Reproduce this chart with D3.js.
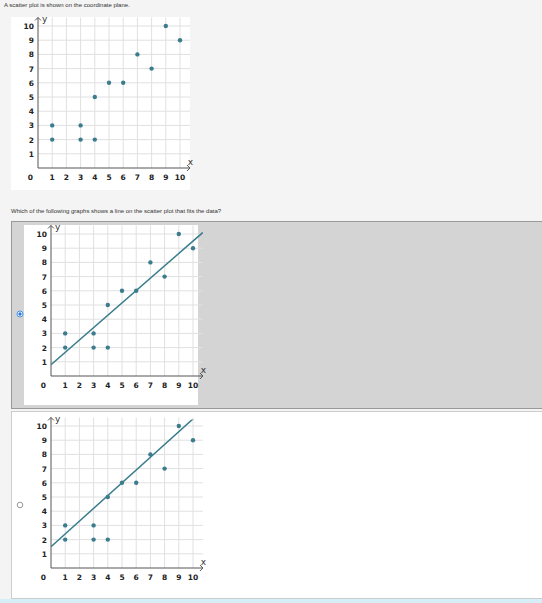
<!DOCTYPE html><html><head><meta charset="utf-8"><script src="https://cdn.jsdelivr.net/npm/d3@7"></script>
<style>body{margin:0;background:#f4f4f4}svg{display:block}</style></head><body>
<script>
const xs=[1,1,3,3,4,4,5,6,7,8,9,10];
const ys=[2,3,2,3,2,5,6,6,8,7,10,9];
const ticks=[1,2,3,4,5,6,7,8,9,10];
const lineA=[[0,0.8],[10.7,10.11]];
const lineB=[[0,1.5],[10.4,10.86]];
const W=542,H=603;
const svg=d3.select("body").append("svg").attr("width",W).attr("height",H);
const col="#3b7d8c";
svg.append("text").attr("x",4).attr("y",7).attr("font-family","Liberation Sans").attr("font-size",6).attr("fill","#333").text("A scatter plot is shown on the coordinate plane.");
svg.append("text").attr("x",11).attr("y",213).attr("font-family","Liberation Sans").attr("font-size",6).attr("fill","#333").text("Which of the following graphs shows a line on the scatter plot that fits the data?");
svg.append("rect").attr("x",11.5).attr("y",221.5).attr("width",540).attr("height",187).attr("fill","#d4d4d4").attr("stroke","#999");
svg.append("rect").attr("x",11.5).attr("y",411.5).attr("width",540).attr("height",187).attr("fill","#fff").attr("stroke","#ccc");
svg.append("rect").attr("x",0).attr("y",599).attr("width",W).attr("height",4).attr("fill","#d6eef8");
svg.append("circle").attr("cx",20).attr("cy",314).attr("r",3).attr("fill","#fff").attr("stroke","#4a90e2");
svg.append("circle").attr("cx",20).attr("cy",314).attr("r",1.7).attr("fill","#2a7ae2");
svg.append("circle").attr("cx",20).attr("cy",505).attr("r",2.8).attr("fill","#fff").attr("stroke","#999");
function plot(ox,oy,box,ln,id){
  const g=svg.append("g");
  g.append("rect").attr("x",ox+box[0]).attr("y",oy+box[1]).attr("width",box[2]).attr("height",box[3]).attr("fill","#fff");
  const x=d3.scaleLinear().domain([0,10]).range([ox,ox+142]);
  const y=d3.scaleLinear().domain([0,10]).range([oy,oy-142]);
  const xm=10.7,ym=10.6;
  g.selectAll(".gv").data(ticks).join("line").attr("x1",d=>x(d)).attr("x2",d=>x(d)).attr("y1",y(0)).attr("y2",y(ym)).attr("stroke","#e0e0e0");
  g.selectAll(".gh").data(ticks).join("line").attr("y1",d=>y(d)).attr("y2",d=>y(d)).attr("x1",x(0)).attr("x2",x(xm)).attr("stroke","#e0e0e0");
  g.append("line").attr("x1",x(0)).attr("x2",x(xm)).attr("y1",y(0)).attr("y2",y(0)).attr("stroke","#555");
  g.append("line").attr("x1",x(0)).attr("x2",x(0)).attr("y1",y(0)).attr("y2",y(ym)).attr("stroke","#555");
  g.append("path").attr("d",`M${x(0)-3},${y(ym)+3}L${x(0)},${y(ym)}L${x(0)+3},${y(ym)+3}`).attr("fill","none").attr("stroke","#555");
  g.append("path").attr("d",`M${x(xm)-3},${y(0)-3}L${x(xm)},${y(0)}L${x(xm)-3},${y(0)+3}`).attr("fill","none").attr("stroke","#555");
  const f={"font-family":"DejaVu Sans","font-size":7.5,"font-weight":"bold","fill":"#222"};
  const tx=g.selectAll(".tx").data(ticks).join("text").attr("x",d=>x(d)).attr("y",y(0)+12).attr("text-anchor","middle").text(d=>d);
  const ty=g.selectAll(".ty").data(ticks).join("text").attr("x",x(0)-4).attr("y",d=>y(d)+3).attr("text-anchor","end").text(d=>d);
  const t0=g.append("text").attr("x",x(0)-5).attr("y",y(0)+12).attr("text-anchor","end").text("0");
  const tX=g.append("text").attr("x",x(10.55)).attr("y",y(0)-3).attr("font-family","DejaVu Sans").attr("font-size",9).attr("fill","#333").text("x");
  const tY=g.append("text").attr("x",x(0)+4).attr("y",y(10.3)).attr("font-family","DejaVu Sans").attr("font-size",9).attr("fill","#333").text("y");
  for(const s of [tx,ty,t0]) for(const k in f) s.attr(k,f[k]);
  if(ln){
    g.append("clipPath").attr("id",id).append("rect").attr("x",x(0)).attr("y",y(ym)+2).attr("width",x(xm)-x(0)).attr("height",y(0)-y(ym));
    g.append("line").attr("clip-path",`url(#${id})`).attr("x1",x(ln[0][0])).attr("y1",y(ln[0][1])).attr("x2",x(ln[1][0])).attr("y2",y(ln[1][1])).attr("stroke",col).attr("stroke-width",1.5);
  }
  g.selectAll(".pt").data(xs).join("circle").attr("cx",d=>x(d)).attr("cy",(d,i)=>y(ys[i])).attr("r",2.2).attr("fill",col);
}
plot(38,168,[-27,-151,179,173],null,"c0");
plot(51,376,[-27,-151,174,180],lineA,"c1");
plot(51,568,[-27,-151,174,180],lineB,"c2");
</script></body></html>
